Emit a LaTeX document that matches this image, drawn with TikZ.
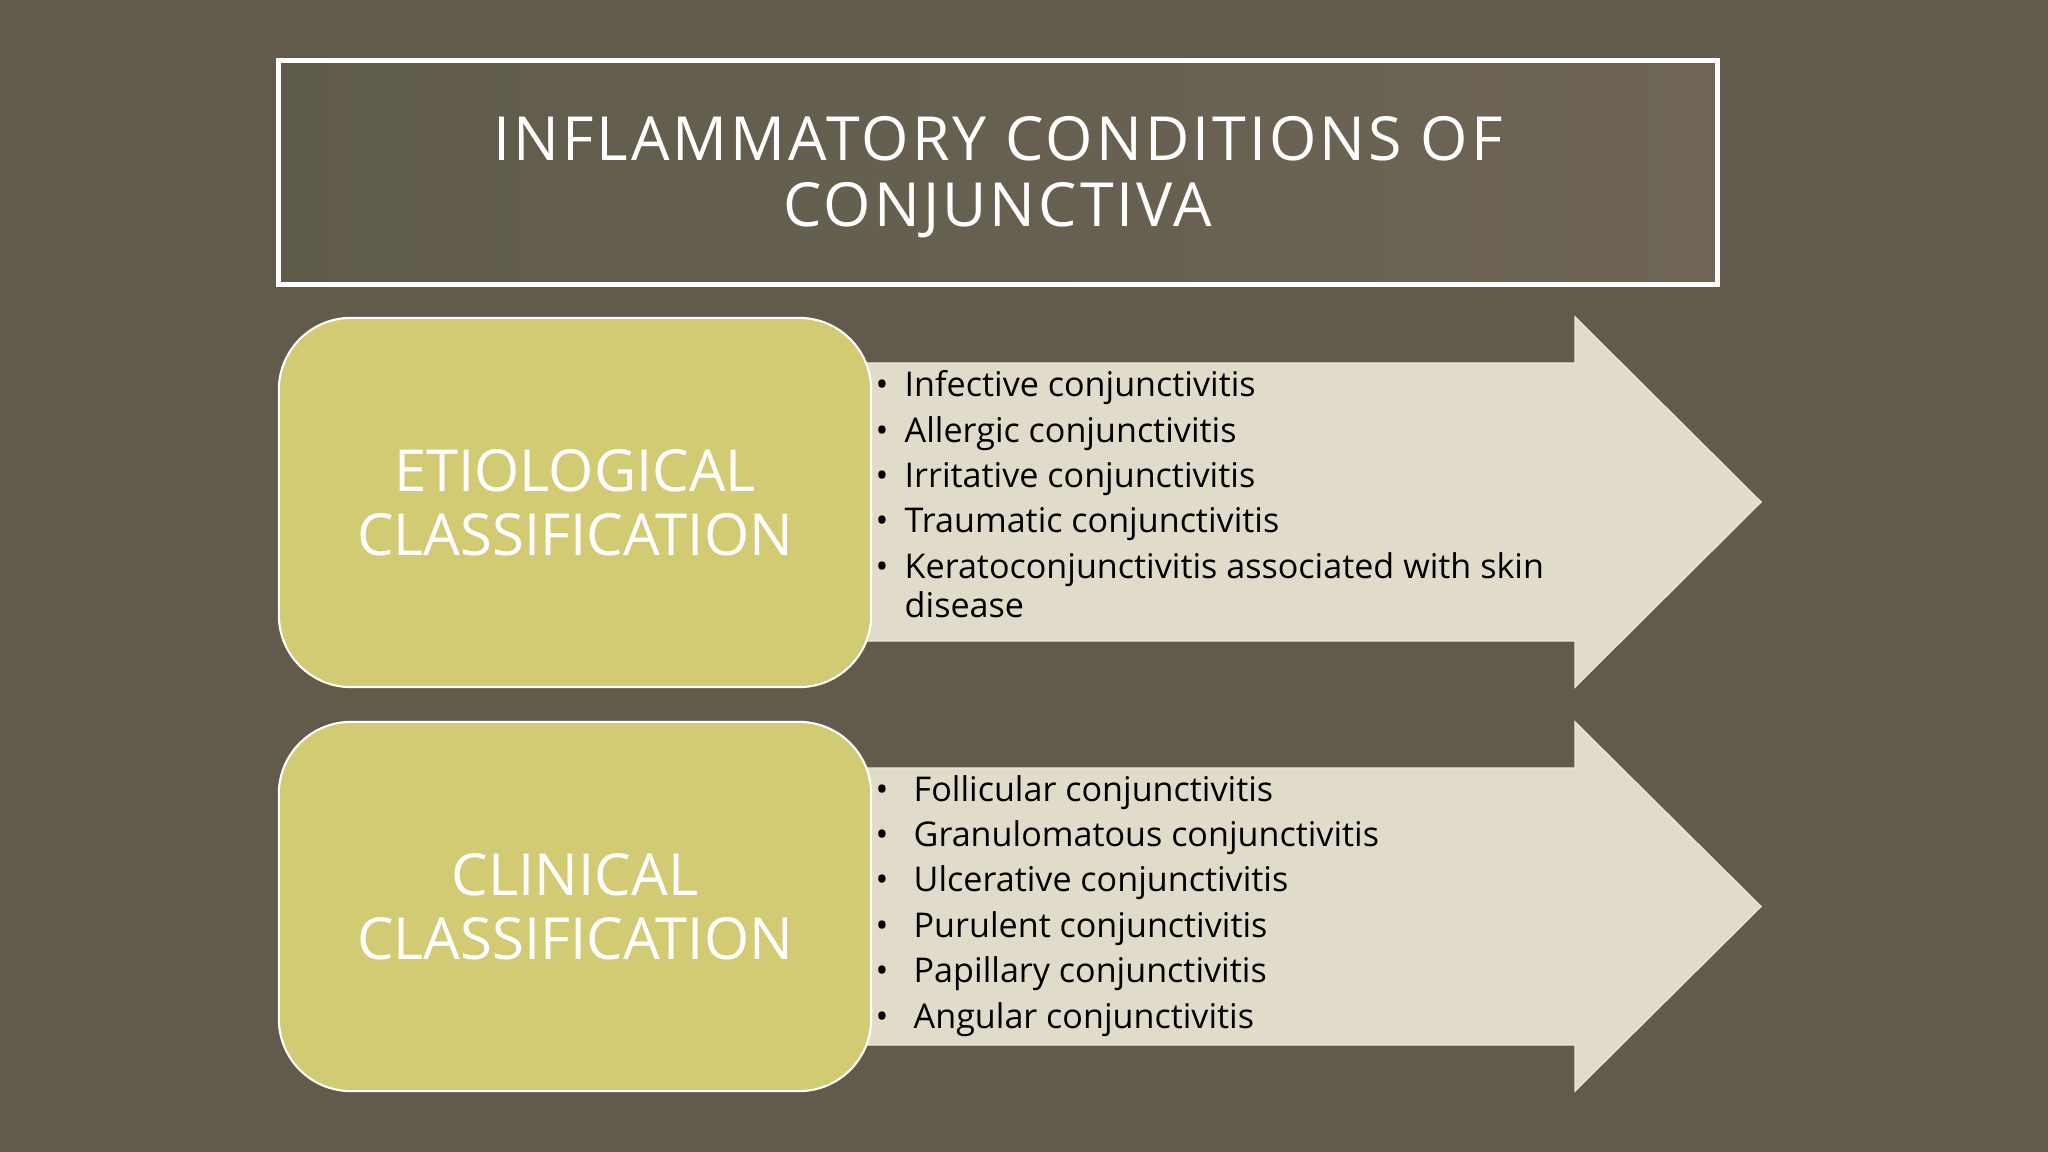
\documentclass[tikz,border=0pt]{standalone}
\usepackage{fontspec}
\setmainfont{Open Sans}
\usetikzlibrary{positioning}
\definecolor{slidebg}{HTML}{625B4B}
\definecolor{titleleft}{HTML}{5F5B4B}
\definecolor{titleright}{HTML}{6E6555}
\definecolor{classfill}{HTML}{D2CB73}
\definecolor{arrowfill}{HTML}{E0DCC9}
\tikzset{slide/.style={x=0.01cm,y=-0.01cm},
  titlebox/.style={draw=white,line width=1.4pt,left color=titleleft,right color=titleright,
    minimum width=14.38cm,minimum height=2.23cm,inner sep=0pt},
  titletext/.style={text=white,align=center,
    font=\fontsize{17.3}{18.6}\selectfont\addfontfeature{LetterSpace=5}},
  classbox/.style={draw=white,line width=0.6pt,fill=classfill,rounded corners=0.72cm,
    minimum width=5.92cm,minimum height=3.69cm,inner sep=0pt,text=white,align=center,
    font=\fontsize{16.5}{18.2}\selectfont},
  bigarrow/.style={fill=arrowfill,draw=arrowfill!70!white,line width=0.4pt},
  itemtext/.style={text=black,align=left,inner sep=0pt,font=\fontsize{9.7}{11.1}\selectfont}}

\begin{document}
\begin{tikzpicture}[slide]
\useasboundingbox (0,0) rectangle (2048,1152);
\fill[slidebg] (0,0) rectangle (2048,1152);

\node[titlebox] (title) at (998,172.5) {};
\node[titletext] (titlelbl) at (998,177) {INFLAMMATORY CONDITIONS OF\\CONJUNCTIVA};

% arrows behind the boxes
\draw[bigarrow] (850,363) -- (1575,363) -- (1575,317) -- (1761,502)
      -- (1575,687) -- (1575,641) -- (850,641) -- cycle;
\draw[bigarrow] (850,768) -- (1575,768) -- (1575,722) -- (1761,906.5)
      -- (1575,1091) -- (1575,1045) -- (850,1045) -- cycle;

\node[classbox] (etio) at (575,502.5) {ETIOLOGICAL\\CLASSIFICATION};
\node[classbox] (clin) at (575,906.5) {CLINICAL\\CLASSIFICATION};

% last item wraps: base anchor sits on its second line
\foreach \txt/\dy [count=\i] in {Infective conjunctivitis/0,Allergic conjunctivitis/0,
    Irritative conjunctivitis/0,Traumatic conjunctivitis/0,
    {Keratoconjunctivitis associated with skin\\disease}/39}{
  \node[itemtext,anchor=base] (etiodot\i) at (882,397+45.3*\i-45.3) {\textbullet};
  \node[itemtext,anchor=base west] (etioitem\i) at (904,397+45.3*\i-45.3+\dy) {\txt};
}
\foreach \txt [count=\i] in {Follicular conjunctivitis,Granulomatous conjunctivitis,
    Ulcerative conjunctivitis,Purulent conjunctivitis,
    Papillary conjunctivitis,Angular conjunctivitis}{
  \node[itemtext,anchor=base] (clindot\i) at (882,801+45.4*\i-45.4) {\textbullet};
  \node[itemtext,anchor=base west] (clinitem\i) at (913,801+45.4*\i-45.4) {\txt};
}
\end{tikzpicture}
\end{document}
